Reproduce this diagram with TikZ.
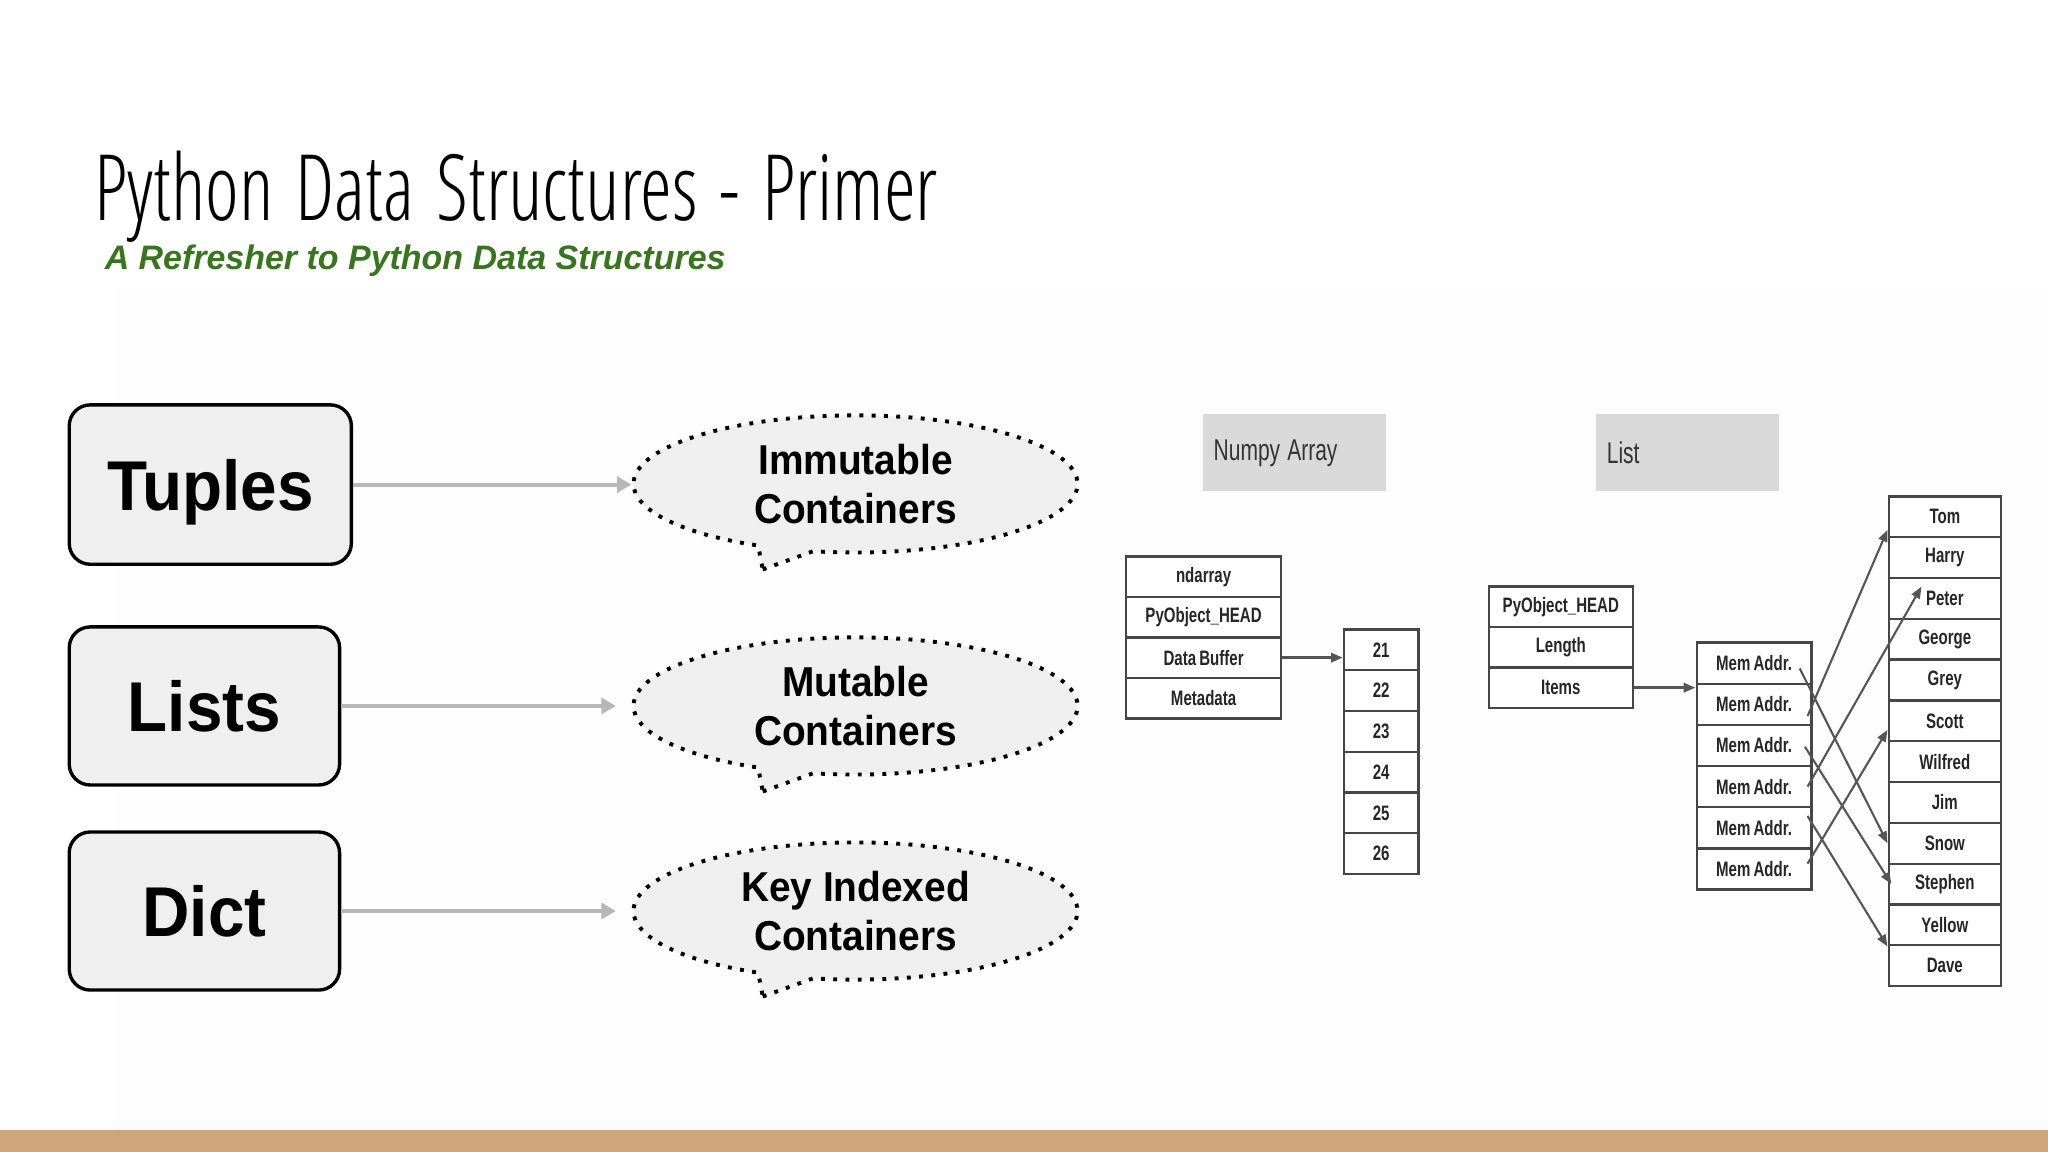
\documentclass[tikz,border=0pt]{standalone}
\usepackage{fontspec}
\setmainfont{Liberation Sans}
\IfFontExistsTF{OpenSans-CondLight.ttf}
  {\newfontfamily\titlefont[WordSpace=1.45]{OpenSans-CondLight.ttf}}
  {\IfFontExistsTF{Lato-Light.ttf}
    {\newfontfamily\titlefont[WordSpace=1.45]{Lato-Light.ttf}}
    {\newfontfamily\titlefont{Liberation Sans}}}
\newfontfamily\cellfont[FakeStretch=0.72,WordSpace=0.75]{Liberation Sans}
\newfontfamily\boxfont[FakeStretch=0.93]{Liberation Sans}
\usetikzlibrary{shapes.callouts,arrows.meta,calc}
\definecolor{tanbar}{RGB}{207,165,122}
\definecolor{subgreen}{RGB}{56,118,29}
\definecolor{boxgray}{RGB}{239,239,240}
\definecolor{conngray}{RGB}{183,183,183}
\definecolor{labelgray}{RGB}{217,217,217}
\definecolor{celledge}{RGB}{70,70,70}
\definecolor{ptrcol}{RGB}{85,85,85}
\definecolor{panel}{RGB}{253,253,253}
\newlength\titlewd
\newcommand\titletext{\titlefont\fontsize{70}{80}\selectfont Python Data Structures - Primer}
\begin{document}
\settowidth\titlewd{\titletext}%
\pgfmathsetmacro\titlescale{646/\titlewd}%
\begin{tikzpicture}[x=1pt,y=-1pt,
  kind/.style={draw=black, line width=2.6pt, rounded corners=16pt, fill=boxgray, inner sep=0pt, text height=39pt, text depth=0pt, font=\boxfont\bfseries\fontsize{54}{60}\selectfont},
  bubble/.style={ellipse callout, draw=black, fill=boxgray, line width=3pt, dash pattern=on 3pt off 6.4pt, minimum width=340pt, minimum height=105pt, inner sep=0pt, align=center, font=\boxfont\bfseries\fontsize{32}{37}\selectfont},
  link/.style={draw=conngray, line width=3pt, -{Triangle[length=11pt,width=12pt]}},
  labelbox/.style={fill=labelgray, minimum height=59pt, text width=124pt, inner xsep=8pt, inner ysep=0pt, align=left, font=\fontsize{23}{26}\selectfont, text=black!80},
  cell/.style={draw=celledge, line width=1.8pt, fill=white, inner sep=0pt, text=black!85, font=\cellfont\bfseries\fontsize{16}{18}\selectfont},
  ptrarrow/.style={draw=ptrcol, line width=1.6pt, -{Triangle[length=9pt,width=7pt]}},
]
\fill[white] (0,0) rectangle (1568,882);
\useasboundingbox (0,0) rectangle (1568,882);
\fill[panel] (88,222) rectangle (1568,865);
\fill[tanbar] (0,865) rectangle (1568,882);

% titles
\node[anchor=base west, inner sep=0pt] (title) at (72,169) {\scalebox{\titlescale}[1]{\titletext}};
\node[anchor=base west, inner sep=0pt, text=subgreen, font=\bfseries\itshape\fontsize{26}{30}\selectfont] (subtitle) at (80,206) {A Refresher to Python Data Structures};

% left boxes
\node[kind, minimum width=216pt, minimum height=122pt] (tuples) at (161,371) {Tuples};
\node[kind, minimum width=207pt, minimum height=121pt] (lists) at (156.5,540.5) {Lists};
\node[kind, minimum width=207pt, minimum height=121pt] (dict) at (156.5,697.5) {Dict};

% balloons
\node[bubble, callout absolute pointer={(584,436)}] (imm) at (655,370.5) {Immutable\\Containers};
\node[bubble, callout absolute pointer={(584,606)}] (mut) at (655,540.5) {Mutable\\Containers};
\node[bubble, callout absolute pointer={(584,763)}] (key) at (655,697.5) {Key Indexed\\Containers};

\draw[link] (tuples.east) -- (tuples.east -| imm.west);
\draw[link, shorten >=12pt] (lists.east) -- (lists.east -| mut.west);
\draw[link, shorten >=12pt] (dict.east) -- (dict.east -| key.west);

% right figure labels
\node[labelbox, anchor=north west] (nplabel) at (921,317) {\scalebox{0.7}[1]{Numpy Array}};
\node[labelbox, anchor=north west] (listlabel) at (1222,317) {\scalebox{0.7}[1]{List}};

% numpy
\foreach \t [count=\i] in {ndarray, PyObject\_HEAD, Data Buffer, Metadata}
  \node[cell, minimum width=119pt, minimum height=31pt] (nd\i) at (921.5,{410.5+31*\i}) {\t};
\foreach \t [count=\i] in {21,22,23,24,25,26}
  \node[cell, minimum width=57pt, minimum height=31.2pt] (num\i) at (1057.5,{466.4+31.2*\i}) {\t};
\draw[ptrarrow, line width=2.2pt] (nd3.east) -- (nd3.east -| num1.west);

% list
\foreach \t [count=\i] in {PyObject\_HEAD, Length, Items}
  \node[cell, minimum width=110pt, minimum height=31pt] (li\i) at (1195,{433.5+31*\i}) {\t};
\foreach \i in {1,...,6}
  \node[cell, minimum width=88pt, minimum height=31.5pt] (m\i) at (1343,{476.25+31.5*\i}) {Mem Addr.};
\foreach \t [count=\i] in {Tom, Harry, Peter, George, Grey, Scott, Wilfred, Jim, Snow, Stephen, Yellow, Dave}
  \node[cell, minimum width=86pt, minimum height=31.25pt] (n\i) at (1489,{364.375+31.25*\i}) {\t};
\draw[ptrarrow, line width=2.2pt] (li3.east) -- (li3.east -| m1.west);

\draw[ptrarrow] ([xshift=-10pt,yshift=-4pt]m1.east) -- (n9.west);
\draw[ptrarrow] ([xshift=-4pt,yshift=-9pt]m2.east) -- ([yshift=-10pt]n1.west);
\draw[ptrarrow] ([xshift=-6pt,yshift=-1pt]m3.east) -- ([xshift=3pt]n10.west);
\draw[ptrarrow] ([xshift=-4pt]m4.east) -- ([xshift=26pt,yshift=9pt]n3.west);
\draw[ptrarrow] ([xshift=-4pt,yshift=9pt]m5.east) -- (n11.south west);
\draw[ptrarrow] ([xshift=-4pt,yshift=4pt]m6.east) -- ([yshift=-7pt]n6.west);
\end{tikzpicture}
\end{document}
